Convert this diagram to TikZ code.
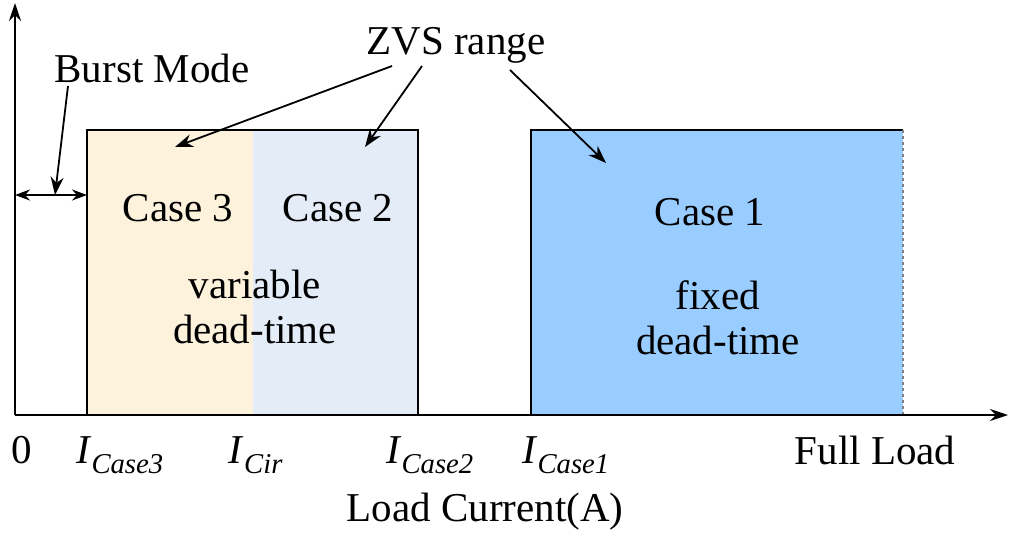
\documentclass[tikz,border=0pt]{standalone}
\usepackage{fontspec}
\setmainfont{Liberation Serif}
\usetikzlibrary{arrows.meta,positioning}
\definecolor{beige}{RGB}{253,242,220}
\definecolor{greyblue}{RGB}{228,236,248}
\definecolor{skyblue}{RGB}{153,204,255}
\begin{document}
\begin{tikzpicture}[x=1pt,y=-1pt,
  lbl/.style={font=\fontsize{41}{45}\selectfont, inner sep=0pt},
  a/.style={-{Stealth[length=18pt,width=13pt]}, line width=1.8pt},
  ax/.style={-{Stealth[length=18pt,width=12pt]}, line width=1.8pt}
]
\useasboundingbox (0,0) rectangle (1024,533);
% regions
\fill[beige] (87,130) rectangle (253,415);
\fill[greyblue] (253,130) rectangle (418,415);
\draw[line width=1.8pt] (87,415) -- (87,130) -- (418,130) -- (418,415);
\fill[skyblue] (531,130) rectangle (903,415);
\draw[line width=1.8pt] (903,130) -- (531,130) -- (531,415);
\draw[line width=1.8pt, dashed, gray] (903,130) -- (903,415);
% axes
\coordinate (O) at (15,415);
\coordinate (Ytop) at (15,3);
\coordinate (Xend) at (1008,415);
\draw[ax] (O) -- (Ytop);
\draw[ax] (O) -- (Xend);
% burst mode
\coordinate (B1) at (15,195);
\coordinate (B2) at (87,195);
\coordinate (Bm) at (55,195);
\draw[{Stealth[length=15pt,width=11pt]}-{Stealth[length=15pt,width=11pt]}, line width=1.8pt] (B1) -- (B2);
\node[lbl] (burst) at (152,68) {Burst Mode};
\coordinate (b0) at (68,86);
\draw[a] (b0) -- (Bm);
% ZVS
\node[lbl] (zvs) at (456,45) {ZVS range};
\coordinate (s3) at (392,66);
\coordinate (s2) at (422,66);
\coordinate (s1) at (510,70);
\coordinate (z3) at (175,147);
\coordinate (z2) at (365,147);
\coordinate (z1) at (606,163);
\draw[a] (s3) -- (z3);
\draw[a] (s2) -- (z2);
\draw[a] (s1) -- (z1);
% texts
\node[lbl] (c3) at (178,208) {Case 3};
\node[lbl] (c2) at (338,208) {Case 2};
\node[lbl, align=center] (var) at (255,307) {variable\\dead-time};
\node[lbl] (c1) at (710,212) {Case 1};
\node[lbl, align=center] (fix) at (718,318) {fixed\\dead-time};
% ticks
\node[lbl] (zero) at (22,450) {0};
\node[lbl] (i3) at (120,455) {\textit{I}\textsubscript{\textit{Case3}}};
\node[lbl] (ic) at (256,455) {\textit{I}\textsubscript{\textit{Cir}}};
\node[lbl] (i2) at (430,455) {\textit{I}\textsubscript{\textit{Case2}}};
\node[lbl] (i1) at (566,455) {\textit{I}\textsubscript{\textit{Case1}}};
\node[lbl] (full) at (875,450) {Full Load};
\node[lbl] (lc) at (485,512) {Load Current(A)};
\end{tikzpicture}
\end{document}
